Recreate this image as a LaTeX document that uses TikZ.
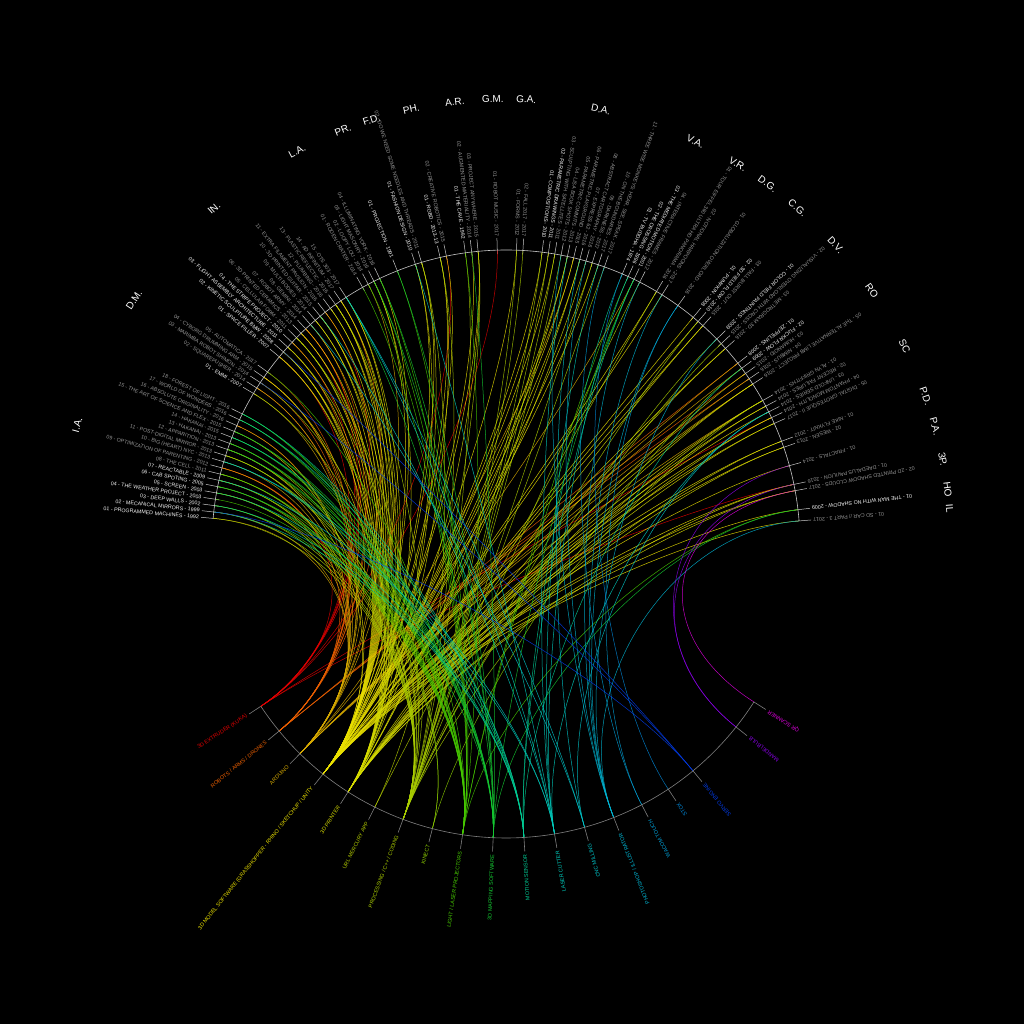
\documentclass[tikz,border=0pt]{standalone}
\usepackage{fontspec}
\setmainfont{Liberation Sans}
\usetikzlibrary{calc}
\definecolor{arctop}{gray}{0.78}
\definecolor{arcbot}{gray}{0.5}
\definecolor{labhi}{gray}{0.96}
\definecolor{lablo}{gray}{0.58}
\definecolor{c-ext}{RGB}{225,0,0}
\definecolor{c-rob}{RGB}{235,95,0}
\definecolor{c-ard}{RGB}{215,170,0}
\definecolor{c-mod}{RGB}{235,225,0}
\definecolor{c-pri}{RGB}{215,220,0}
\definecolor{c-url}{RGB}{180,205,0}
\definecolor{c-pro}{RGB}{170,205,0}
\definecolor{c-kin}{RGB}{140,205,0}
\definecolor{c-lig}{RGB}{70,200,0}
\definecolor{c-map}{RGB}{20,200,50}
\definecolor{c-mot}{RGB}{0,205,150}
\definecolor{c-las}{RGB}{0,205,190}
\definecolor{c-cnc}{RGB}{0,200,205}
\definecolor{c-pho}{RGB}{0,180,210}
\definecolor{c-wac}{RGB}{0,160,215}
\definecolor{c-sto}{RGB}{0,135,215}
\definecolor{c-ser}{RGB}{0,60,235}
\definecolor{c-man}{RGB}{140,0,235}
\definecolor{c-qr}{RGB}{225,0,225}
\tikzset{
  arcln/.style={draw=arctop,line width=0.6pt},
  botarc/.style={draw=arcbot,line width=0.6pt},
  tickln/.style={draw=arctop,line width=0.5pt},
  tooltick/.style={draw=arcbot,line width=0.6pt},
  plab/.style={font=\fontsize{5.3}{6}\selectfont,inner sep=0pt,text=lablo},
  phi/.style={plab,text=labhi},
  glab/.style={font=\fontsize{10}{12}\selectfont,text=white,inner sep=0pt},
  tlab/.style={font=\fontsize{5.4}{6}\selectfont,inner sep=0pt},
  chord/.style={line width=0.5pt,opacity=0.85},
}
% angle, name, style, text
\newcommand{\proj}[4]{%
  \coordinate (#2) at (#1:294);
  \draw[tickln] (#1:290) -- (#1:306);
  \node[#3,anchor=east,rotate=#1-180] (#2-l) at (#1:308) {#4};}
% angle, name, colour, text
\newcommand{\tool}[4]{%
  \coordinate (#2) at (#1:294);
  \draw[tooltick] (#1:294) -- (#1:308);
  \node[tlab,text=#3,anchor=east,rotate=#1-180] (#2-l) at (#1:311) {#4};}
\newcommand{\grp}[3]{\node[glab,rotate=#1-90] (#2) at (#1:445) {#3};}
\newcommand{\link}[3]{\draw[chord,#1] (#2) .. controls ($(#2)!0.45!(O)$) and ($(#3)!0.45!(O)$) .. (#3);}
\begin{document}
\begin{tikzpicture}[x=1pt,y=1pt]
  \fill[black] (-506,-480) rectangle (518,544);
  \useasboundingbox (-506,-480) rectangle (518,544);
  \coordinate (O) at (0,0);
  % projects
  \proj{175.0}{ia1}{phi}{01 - PROGRAMMED MACHINES - 1992}
  \proj{173.75}{ia2}{phi}{02 - MECANICAL MIRRORS - 1999}
  \proj{172.5}{ia3}{phi}{03 - DEEP WALLS - 2002}
  \proj{171.25}{ia4}{phi}{04 - THE WEATHER PROJECT - 2003}
  \proj{170.0}{ia5}{phi}{05 - SCREEN - 2003}
  \proj{168.75}{ia6}{phi}{06 - CAB SPOTING - 2005}
  \proj{167.5}{ia7}{phi}{07 - REACTABLE - 2009}
  \proj{166.25}{ia8}{plab}{08 - THE CELL - 2011}
  \proj{165.0}{ia9}{plab}{09 - OPTIMIZATION OF PARENTING - 2012}
  \proj{163.75}{ia10}{plab}{10 - BIG (HEART) NYC - 2013}
  \proj{162.5}{ia11}{plab}{11 - POST-DIGITAL MIRROR - 2013}
  \proj{161.25}{ia12}{plab}{12 - APPARITION - 2013}
  \proj{160.0}{ia13}{plab}{13 - HAKANAI - 2013}
  \proj{158.75}{ia14}{plab}{14 - HAKANAI - 2015}
  \proj{157.5}{ia15}{plab}{15 - THE ART OF SCIENCE AND FLEX - 2015}
  \proj{156.25}{ia16}{plab}{16 - ABSOLUTE ORIGINALITY - 2016}
  \proj{155.0}{ia17}{plab}{17 - WORLD OF WONDERS - 2016}
  \proj{153.75}{ia18}{plab}{18 - FOREST OF LIGHT - 2016}
  \proj{149.2}{dm1}{phi}{01 - EMMI - 2007}
  \proj{147.95}{dm2}{plab}{02 - SQUAREPUSHER - 2014}
  \proj{146.7}{dm3}{plab}{03 - MARIMBA ROBOT SHIMON - 2014}
  \proj{145.45}{dm4}{plab}{04 - CYBORG DRUMMING ARM - 2015}
  \proj{144.2}{dm5}{plab}{05 - AUTOMATICA - 2017}
  \proj{140.45}{in1}{phi}{01 - SPACE FILLER - 2007}
  \proj{139.2}{in2}{phi}{02 - KINETIC SCULPTURE BMW - 2008}
  \proj{137.95}{in3}{phi}{03 - FLIGHT ASSEMBLY ARCHITECTURE - 2011}
  \proj{136.7}{in4}{phi}{04 - THE STRIPE PROJECT - 2010}
  \proj{135.45}{in5}{plab}{05 - CELLULAR FORM - 2011}
  \proj{134.2}{in6}{plab}{06 - 3D PRINTED CERAMICS - 2013}
  \proj{132.95}{in7}{plab}{07 - ROBOT ARMY - 2014}
  \proj{131.7}{in8}{plab}{08 - GEMINI - 2014}
  \proj{130.45}{in9}{plab}{09 - MULTI BODIES - 2014}
  \proj{129.2}{in10}{plab}{10 - 3D PRINTED GUITAR - 2015}
  \proj{127.95}{in11}{plab}{11 - EXTRA FILAMENT PAVILION - 2016}
  \proj{126.7}{in12}{plab}{12 - PLUMBING - 2016}
  \proj{125.45}{in13}{plab}{13 - PLASTIC REFLECTIC - 2016}
  \proj{124.2}{in14}{plab}{14 - AD INFINITUM - 2017}
  \proj{122.95}{in15}{plab}{15 - OTS 303 - 2017}
  \proj{119.2}{la1}{plab}{01 - RODEN CRATER - 2014}
  \proj{117.95}{la2}{plab}{02 - LOOPY LOU - 2014}
  \proj{116.7}{la3}{plab}{03 - LIGHT MASONRY - 2016}
  \proj{115.45}{la4}{plab}{04 - ILLUMINATING YORK - 2016}
  \proj{111.7}{pr1}{phi}{01 - PROJECTION - 1991}
  \proj{107.95}{fd1}{phi}{01 - FASHION DESIGN - 2010}
  \proj{106.7}{fd2}{plab}{02 - DO WE NEED SOME NEEDLES AND THREADS - 2011}
  \proj{102.95}{ph1}{phi}{01 - RGBD - 2013-13}
  \proj{101.7}{ph2}{plab}{02 - CREATIVE ROBOTICS - 2015}
  \proj{97.95}{ar1}{phi}{01 - THE CAVE - 1992}
  \proj{96.7}{ar2}{plab}{02 - AUGMENTED MATERIALITY - 2014}
  \proj{95.45}{ar3}{plab}{03 - PROJECT ANYWHERE - 2015}
  \proj{91.7}{gm1}{plab}{01 - ROBOT MUSIC - 2017}
  \proj{87.95}{ga1}{plab}{01 - FORMS - 2012}
  \proj{86.7}{ga2}{plab}{02 - FALL 2017 - 2017}
  \proj{82.95}{da1}{phi}{01 - COMPOSITIONS - 2010}
  \proj{81.7}{da2}{phi}{02 - PARAMETRIC DRAWINGS - 2011}
  \proj{80.45}{da3}{plab}{03 - SCULPTING WITH SATELLITES - 2011}
  \proj{79.2}{da4}{plab}{04 - LISA BOOK SHOTS - 2012}
  \proj{77.95}{da5}{plab}{05 - PARAMETRIC COMMITS - 2013}
  \proj{76.7}{da6}{plab}{06 - PARAMETRIC PLAYGROUND - 2015}
  \proj{75.45}{da7}{plab}{07 - EXPRESS 62 - 2016}
  \proj{74.2}{da8}{plab}{08 - ABSTRACT CARTOGRAPHY - 2016}
  \proj{72.95}{da9}{plab}{09 - DARKNESS - 2017}
  \proj{71.7}{da10}{plab}{10 - ON THE BOUNDARIES - 2017}
  \proj{70.45}{da11}{plab}{11 - THREE WISE MONKEYS: HEAR, SEE, SPEAK - 2017}
  \proj{66.7}{va1}{phi}{01 - TV BUDDHA - 1974}
  \proj{65.45}{va2}{phi}{02 - THE CROSSING - 1996}
  \proj{64.2}{va3}{phi}{03 - THE MEDIATED MOTION - 2001}
  \proj{62.95}{va4}{plab}{04 - INTERACTIVE FRAMES - 2012}
  \proj{59.2}{vr1}{plab}{01 - TOUR EIFFEL 360 ULTRA HD PANORAMA - 2016}
  \proj{57.95}{vr2}{plab}{02 - NOTIONAL HARPOONS - 2017}
  \proj{54.2}{dg1}{plab}{01 - GLOBALIZATION OVERLOAD - 2016}
  \proj{50.45}{cg1}{phi}{01 - PUMPKIN - 2008}
  \proj{49.2}{cg2}{phi}{02 - 3D FIELD FLOW - 2010}
  \proj{47.95}{cg3}{plab}{03 - FALL BURST OUT - 2015}
  \proj{44.2}{dv1}{phi}{01 - COLOR FIELD PAINTINGS - 2009}
  \proj{42.95}{dv2}{plab}{02 - VISUALIZING OVERLOAD WITH CROSS - 2015}
  \proj{41.7}{dv3}{plab}{03 - METROGRAM 3D - 2016}
  \proj{37.95}{ro1}{phi}{01 - ZEPPELINS - 2008}
  \proj{36.7}{ro2}{phi}{02 - FLICKR FLOW - 2009}
  \proj{35.45}{ro3}{plab}{03 - HUMANOID - 2015}
  \proj{34.2}{ro4}{plab}{04 - NIMBUS - 2016}
  \proj{32.95}{ro5}{plab}{05 - THE ALTERNATIVE LIMB PROJECT - 2016}
  \proj{29.2}{sc1}{plab}{01 - ALYN GRIFFITHS - 2014}
  \proj{27.95}{sc2}{plab}{02 - RECENT FAILURES - 2014}
  \proj{26.7}{sc3}{plab}{03 - UNFOLD SERIES - 2014}
  \proj{25.45}{sc4}{plab}{04 - PHANTOM MONOLITH - 2014}
  \proj{24.2}{sc5}{plab}{05 - DIGITAL GROTESQUE II - 2017}
  \proj{20.45}{pd1}{plab}{01 - NIKE FLYKNIT - 2012}
  \proj{19.2}{pd2}{plab}{02 - WESEN - 2013}
  \proj{15.45}{pa1}{plab}{01 - FRACTALS - 2014}
  \proj{11.7}{tp1}{plab}{01 - DAEDALUS PAVILION - 2016}
  \proj{10.45}{tp2}{plab}{02 - 2D PRINTED SHADOW CLOUDS - 2017}
  \proj{6.7}{ho1}{phi}{01 - THE MAN WITH NO SHADOW - 2009}
  \proj{4.5}{il1}{plab}{01 - SD CAR // PART 3 - 2017}
  % tools
  \tool{213.5}{ext}{c-ext}{3D EXTRUDER (KUKA)}
  \tool{219.5}{rob}{c-rob}{ROBOTS / ARMS / DRONES}
  \tool{225.5}{ard}{c-ard}{ARDUINO}
  \tool{231.5}{mod}{c-mod}{3D MODEL SOFTWARE (GRASSHOPPER - RHINO / SKETCHUP / UNITY}
  \tool{237.5}{pri}{c-pri}{3D PRINTER}
  \tool{243.5}{url}{c-url}{URL MERCURY APP}
  \tool{249.5}{pro}{c-pro}{PROCESSING / C++ / CODING}
  \tool{255.5}{kin}{c-kin}{KINECT}
  \tool{261.5}{lig}{c-lig}{LIGHT / LASER PROJECTORS}
  \tool{267.5}{map}{c-map}{3D MAPPING SOFTWARE}
  \tool{273.5}{mot}{c-mot}{MOTION SENSOR}
  \tool{279.5}{las}{c-las}{LASER CUTTER}
  \tool{285.5}{cnc}{c-cnc}{CNC MILLING}
  \tool{291.5}{pho}{c-pho}{PHOTOSHOP / ILLUSTRATOR}
  \tool{297.5}{wac}{c-wac}{WACOM TOUCH}
  \tool{303.5}{sto}{c-sto}{STOX}
  \tool{309.5}{ser}{c-ser}{SERVO ENGINE}
  \tool{321.5}{man}{c-man}{MANDELBULB}
  \tool{327.5}{qr}{c-qr}{QR SCANNER}
  % links
  \foreach \p in {ia9,in1,in4,in6,in7,in11,ph2,gm1,tp1,sc4} {\link{c-ext}{ext}{\p}}
  \foreach \p in {ia9,ia16,dm2,dm3,dm4,dm5,in3,in7,in8,in14,ro1,ro3,ro4} {\link{c-rob}{rob}{\p}}
  \foreach \p in {ia1,ia2,ia5,ia7,ia9,ia10,ia11,ia16,dm1,dm2,dm4,la2,in2,in10,in13,ro1,ro2,ro4,ro5,va3,da6,sc1} {\link{c-ard}{ard}{\p}}
  \foreach \p in {in1,in2,in3,in4,in5,in6,in7,in8,in9,in10,in11,in12,in13,in14,in15,la3,la4,fd1,fd2,ph1,ph2,ar2,ar3,ga1,da1,da2,da3,da5,da6,da7,da9,da10,vr1,vr2,cg1,cg2,cg3,dv3,ro5,sc1,sc2,sc3,sc4,sc5,pd1,pd2,pa1,tp1,tp2,ho1,il1,ia12,ia15} {\link{c-mod}{mod}{\p}}
  \foreach \p in {in1,in2,in5,in6,in9,in10,in12,in13,in14,in15,fd1,fd2,da5,da7,da8,cg3,dv3,ro3,ro5,sc1,sc2,sc4,sc5,pd1,pd2,tp1,tp2,dm4,ar3,la3,ph1} {\link{c-pri}{pri}{\p}}
  \foreach \p in {ar3,vr1} {\link{c-url}{url}{\p}}
  \foreach \p in {ia1,ia2,ia3,ia5,ia6,ia7,ia8,ia11,ia12,ia13,dm1,dm3,in3,in5,in13,fd2,ph1,ar1,ga1,ga2,da1,da2,da3,da4,da9,da11,cg2,dv1,dv2,sc1,va4} {\link{c-pro}{pro}{\p}}
  \foreach \p in {ia8,ia11,ro2} {\link{c-kin}{kin}{\p}}
  \foreach \p in {ia3,ia4,ia5,ia6,ia7,ia8,ia12,ia13,ia14,ia15,ia17,ia18,la1,la2,la3,la4,pr1,ar1,va2,va3,ho1,dm5} {\link{c-lig}{lig}{\p}}
  \foreach \p in {ia6,ia12,ia13,ia14,ia15,ia17,ia18,la3,la4,pr1,ar2,ho1,va3,in15} {\link{c-map}{map}{\p}}
  \foreach \p in {ia2,ia3,ia5,ia10,ia14,ia17,ia18,va1,va3,ro2} {\link{c-mot}{mot}{\p}}
  \foreach \p in {ia7,ia10,in10,in15,fd1,da5,da10,sc3,va2} {\link{c-las}{las}{\p}}
  \foreach \p in {in8,in15,sc3,da7} {\link{c-cnc}{cnc}{\p}}
  \foreach \p in {da4,da8,dv1,dg1,vr2,il1,va4} {\link{c-pho}{pho}{\p}}
  \foreach \p in {da11,dg1} {\link{c-wac}{wac}{\p}}
  \foreach \p in {va1} {\link{c-sto}{sto}{\p}}
  \foreach \p in {ia2,in2,dm3} {\link{c-ser}{ser}{\p}}
  \foreach \p in {pa1,tp1} {\link{c-man}{man}{\p}}
  \foreach \p in {tp2} {\link{c-qr}{qr}{\p}}
  % arcs
  \draw[arcln] (4.5:294) arc[start angle=4.5,end angle=175,radius=294pt];
  \draw[botarc] (213.5:294) arc[start angle=213.5,end angle=327.5,radius=294pt];
  % groups
  \grp{164.5}{gIA}{I.A.}
  \grp{146.7}{gDM}{D.M.}
  \grp{131.0}{gIN}{IN.}
  \grp{118.0}{gLA}{L.A.}
  \grp{111.5}{gPR}{PR.}
  \grp{107.6}{gFD}{F.D.}
  \grp{102.3}{gPH}{PH.}
  \grp{96.6}{gAR}{A.R.}
  \grp{91.7}{gGM}{G.M.}
  \grp{87.4}{gGA}{G.A.}
  \grp{77.7}{gDA}{D.A.}
  \grp{64.8}{gVA}{V.A.}
  \grp{58.6}{gVR}{V.R.}
  \grp{54.0}{gDG}{D.G.}
  \grp{49.1}{gCG}{C.G.}
  \grp{42.2}{gDV}{D.V.}
  \grp{34.7}{gRO}{RO}
  \grp{26.4}{gSC}{SC}
  \grp{19.4}{gPD}{P.D.}
  \grp{15.3}{gPA}{P.A.}
  \grp{11.0}{gTP}{3P.}
  \grp{7.0}{gHO}{HO}
  \grp{4.6}{gIL}{IL}
\end{tikzpicture}
\end{document}
